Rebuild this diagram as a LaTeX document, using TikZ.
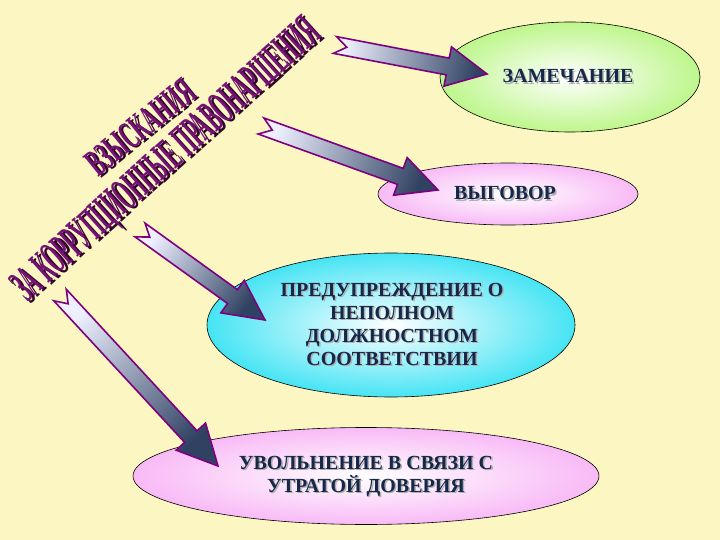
\documentclass[tikz,border=0pt]{standalone}
\usepackage{fontspec}
\usepackage{graphicx}
\setmainfont{Liberation Serif}
\usetikzlibrary{shapes.geometric,calc}
\definecolor{bg}{RGB}{251,246,194}
\definecolor{txt}{RGB}{22,40,74}
\definecolor{txtsh}{RGB}{175,175,175}
\definecolor{egreen}{RGB}{190,246,140}
\definecolor{epink}{RGB}{248,186,246}
\definecolor{ecyan}{RGB}{70,228,244}
\definecolor{arrlight}{RGB}{238,240,255}
\definecolor{arrdark}{RGB}{48,66,98}
\definecolor{arredge}{RGB}{125,0,125}
\definecolor{ttl}{RGB}{118,18,118}
\definecolor{ttlsh}{RGB}{45,6,40}
\newcommand{\shd}[1]{\makebox[0pt][l]{\hspace*{1.5pt}\raisebox{-1.5pt}{\textcolor{txtsh}{#1}}}#1}
\newcommand{\tshd}[1]{\makebox[0pt][l]{\hspace*{0.7pt}\raisebox{-0.7pt}{\textcolor{ttlsh}{#1}}}#1}
\tikzset{
  oval/.style={ellipse, draw=black, line width=0.6pt, inner sep=0pt},
  etext/.style={text=txt, font=\bfseries\fontsize{20}{23}\selectfont, align=center, inner sep=0pt},
  arrowline/.style={draw=arredge, line width=1.6pt, line join=miter},
  ttltext/.style={text=ttl, inner sep=0pt}
}
\newcommand{\blockarr}[3]{%
  \coordinate (neck) at ($(#2)!40pt!(#1)$);
  \draw[arrowline, top color=arrlight, bottom color=arrdark, shading angle=#3]
    ($(#1)!8.5pt!90:(#2)$) -- ($(neck)!8.5pt!-90:(#1)$) -- ($(neck)!20pt!-90:(#1)$)
    -- (#2) -- ($(neck)!20pt!90:(#1)$) -- ($(neck)!8.5pt!90:(#1)$)
    -- ($(#1)!8.5pt!-90:(#2)$) -- ($(#1)!12pt!(#2)$) -- cycle;}
\begin{document}
\begin{tikzpicture}[x=1pt,y=-1pt]
\fill[bg] (0,0) rectangle (720,540);
\useasboundingbox (0,0) rectangle (720,540);

% ovals
\node[oval, inner color=white, outer color=egreen, minimum width=260pt, minimum height=110pt] (e1) at (570,77) {};
\node[oval, inner color=white, outer color=epink, minimum width=260pt, minimum height=62pt] (e2) at (508,194) {};
\node[oval, inner color=white, outer color=ecyan, minimum width=368pt, minimum height=144pt] (e3) at (391,325) {};
\node[oval, inner color=white, outer color=epink, minimum width=466pt, minimum height=97pt] (e4) at (366,476) {};

% arrows
\coordinate (tail1) at (335,45);  \coordinate (tip1) at (487,74);
\coordinate (tail2) at (261,126); \coordinate (tip2) at (438,190);
\coordinate (tail3) at (140,230); \coordinate (tip3) at (265,320);
\coordinate (tail4) at (60,295);  \coordinate (tip4) at (218,466);
\blockarr{tail1}{tip1}{79}
\blockarr{tail2}{tip2}{70.6}
\blockarr{tail3}{tip3}{54.2}
\blockarr{tail4}{tip4}{43}

% oval texts
\node[etext] (t1) at (568,77) {\shd{ЗАМЕЧАНИЕ}};
\node[etext] (t2) at (505,194) {\shd{ВЫГОВОР}};
\node[etext] (t3) at (392,325) {\shd{ПРЕДУПРЕЖДЕНИЕ О}\\\shd{НЕПОЛНОМ}\\\shd{ДОЛЖНОСТНОМ}\\\shd{СООТВЕТСТВИИ}};
\node[etext] (t4) at (366,477) {\shd{УВОЛЬНЕНИЕ В СВЯЗИ С}\\\shd{УТРАТОЙ ДОВЕРИЯ}};

% title
\node[ttltext, rotate=39] (h1) at (141,128) {\resizebox{128pt}{26pt}{\bfseries\tshd{ВЗЫСКАНИЯ}}};
\node[ttltext, rotate=42] (h2) at (169,163) {\resizebox{398pt}{31pt}{\bfseries\tshd{ЗА КОРРУПЦИОННЫЕ ПРАВОНАРШЕНИЯ}}};
\end{tikzpicture}
\end{document}
